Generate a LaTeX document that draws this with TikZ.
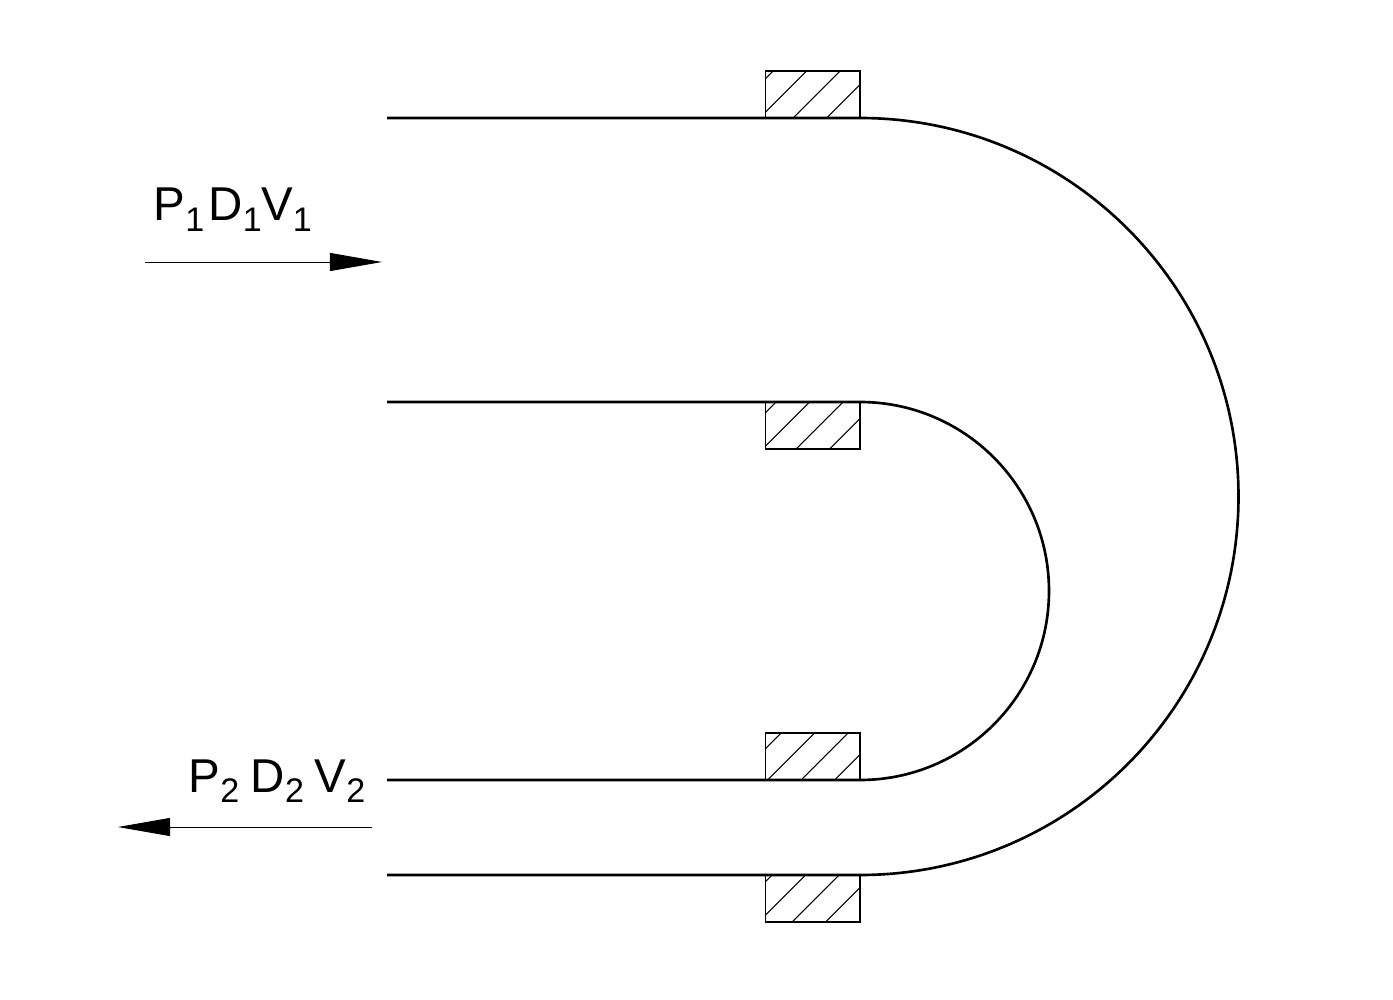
\documentclass[tikz,border=0pt]{standalone}
\usepackage{fontspec}
\setmainfont{Liberation Sans}
\usepackage{tikz}
\usetikzlibrary{arrows.meta}
\newcommand{\lowidx}[1]{\raisebox{-3pt}{\fontsize{9.7}{10}\selectfont #1}}
\tikzset{
pipe/.style={line width=.75pt},
hatch/.style={line width=.3pt},
flow/.style={line width=.25pt, -{Triangle[length=.52cm, width=.18cm]}},
label/.style={anchor=base west, inner sep=0pt, font=\fontsize{13.5}{15}\selectfont}
}
\begin{document}
\begin{tikzpicture}[x=.01cm, y=-.01cm]
\useasboundingbox (0,0) rectangle (1393,1000);
% flanges: top edge, then x+y of the first hatch line
\foreach \t/\h in {71/844, 402/1178, 733/1514, 875/1647}{
\begin{scope}
\clip (765.5,\t) rectangle (860,\t+47);
\foreach \n in {0,1,2,3}{
\draw[hatch] (700,\h+\n*33.5-700) -- (900,\h+\n*33.5-900);
}
\end{scope}
\draw[hatch] (765.5,\t) rectangle (860,\t+47);
}
% pipe walls
\draw[pipe] (387,118) -- (860,118) arc[start angle=-90, end angle=90, radius=378.5] -- (387,875);
\draw[pipe] (387,402) -- (860,402) arc[start angle=-90, end angle=90, radius=189] -- (387,780);
% flow in and out
\coordinate (in1) at (145,262);
\coordinate (in2) at (382,262);
\coordinate (out1) at (372,827);
\coordinate (out2) at (118,827);
\draw[flow] (in1) -- (in2);
\draw[flow] (out1) -- (out2);
\node[label] (inlet) at (153,220.5) {P\lowidx{1}\hspace{1.2pt}D\lowidx{1}\hspace{-.2pt}V\lowidx{1}};
\node[label] (outlet) at (188,792) {P\lowidx{2}\hspace{3.3pt}D\lowidx{2}\hspace{3pt}V\lowidx{2}};
\end{tikzpicture}
\end{document}
